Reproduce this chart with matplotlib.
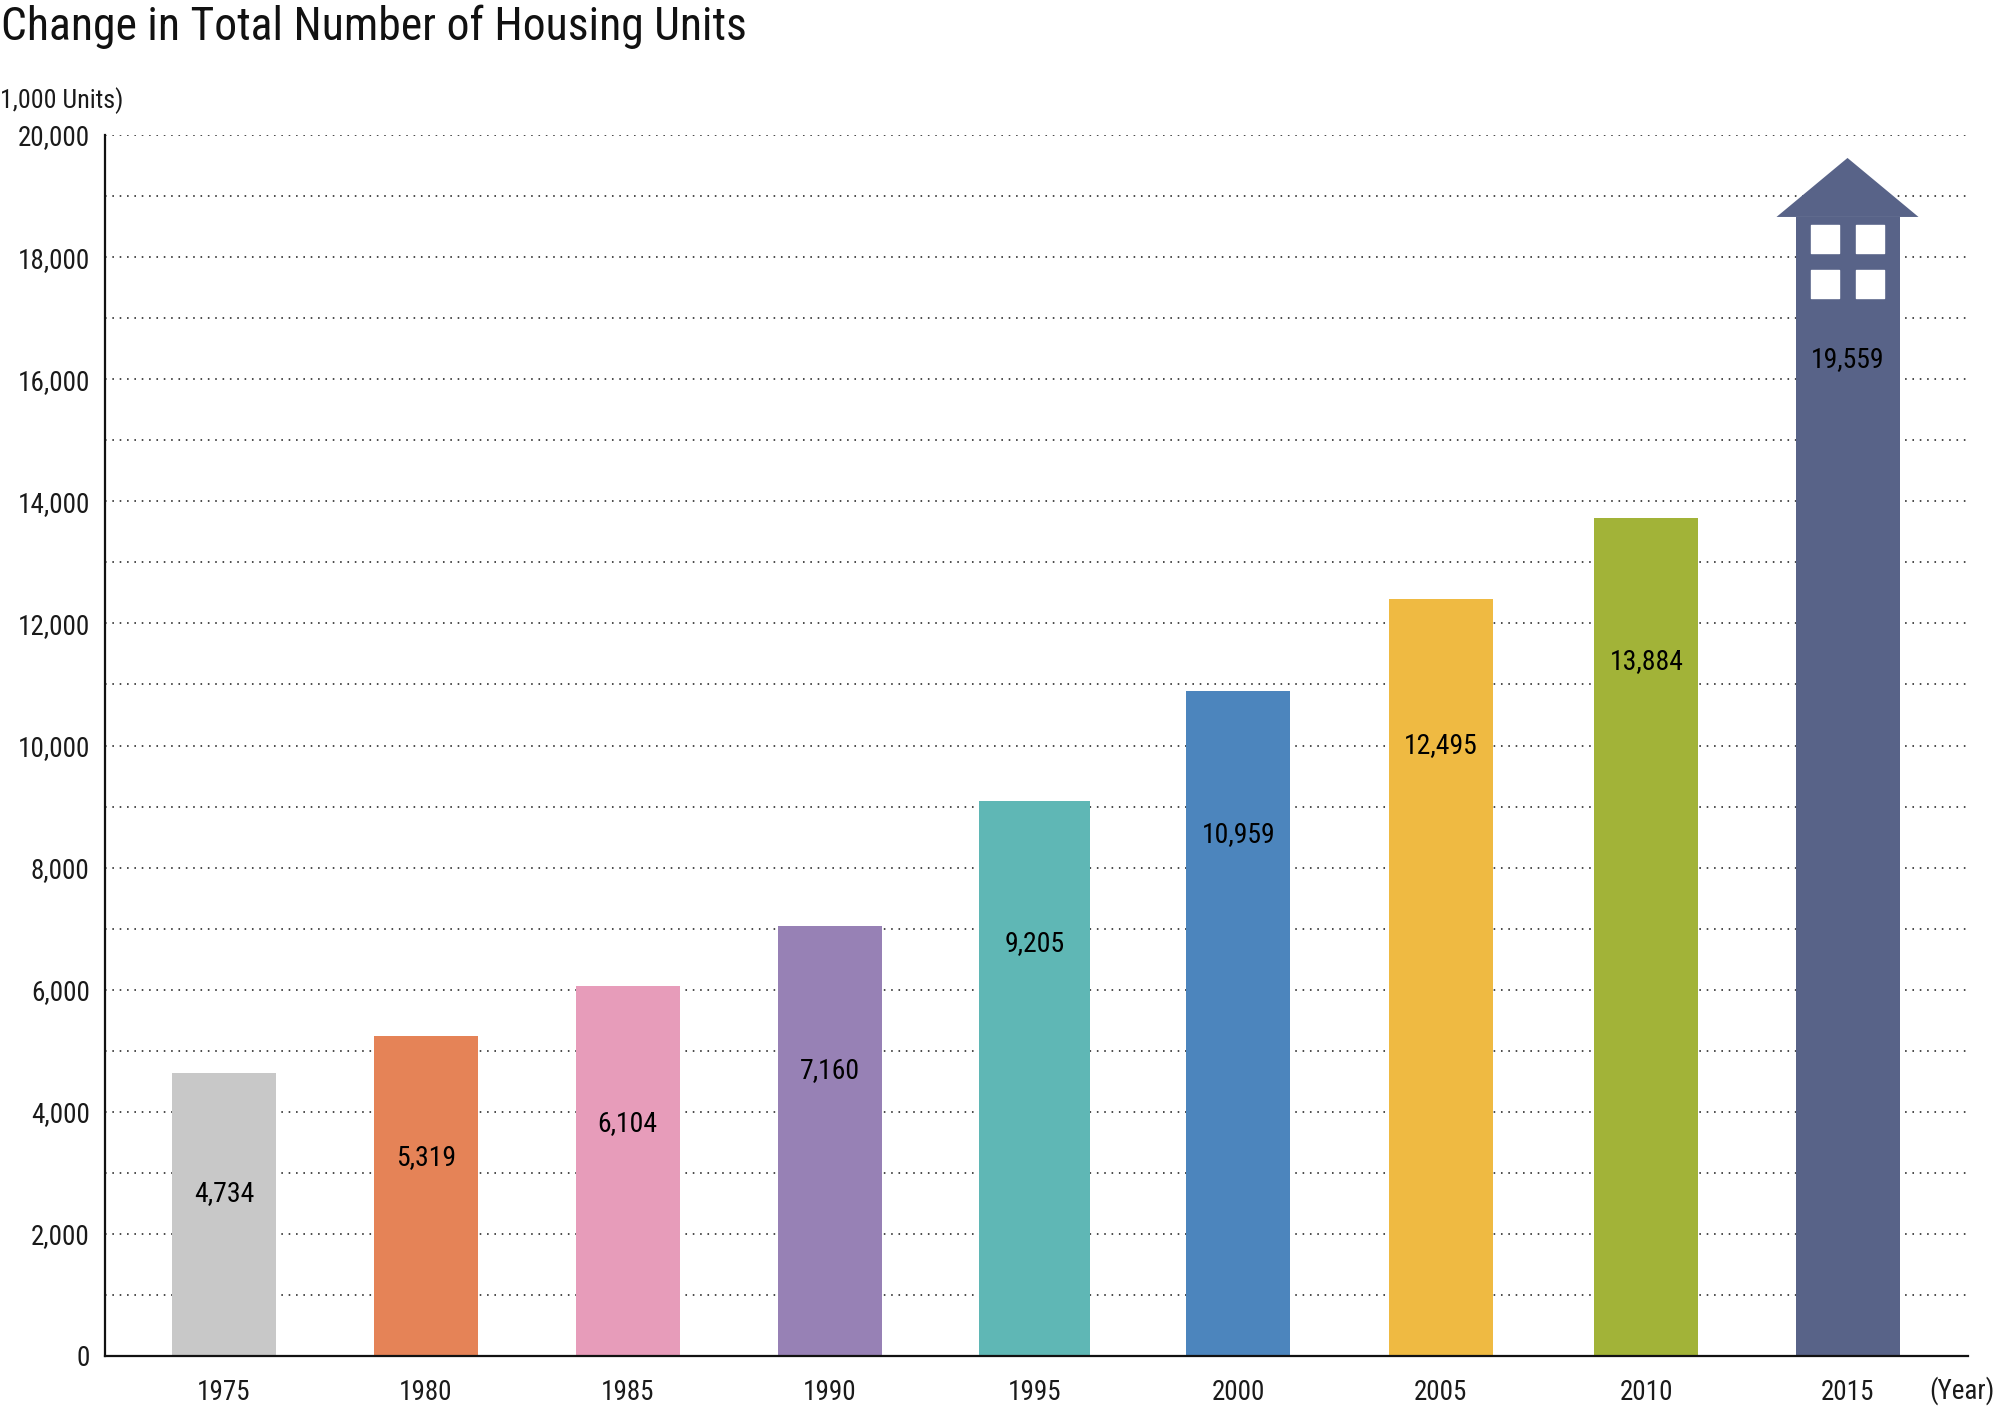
import matplotlib
matplotlib.use("Agg")
import matplotlib.pyplot as plt
from matplotlib.patches import Polygon, Rectangle
from matplotlib import font_manager as fm

years = ["1975", "1980", "1985", "1990", "1995", "2000", "2005", "2010", "2015"]
bar_heights = [4640, 5245, 6060, 7043, 9091, 10888, 12393, 13730, 19624]
value_labels = ["4,734", "5,319", "6,104", "7,160", "9,205", "10,959", "12,495", "13,884", "19,559"]
colors = ["#C8C8C8", "#E58357", "#E79CBA", "#9781B5", "#5FB7B5", "#4C85BD", "#EFBA42", "#A2B338", "#586388"]
y_ticks = list(range(0, 20001, 2000))
y_minor = list(range(1000, 20000, 2000))

# layout, in reference pixels
W, H = 2002, 1408
S = 2002/1568
centers = [175.5*S, 333.5*S, 491.5*S, 650*S, 810*S, 970*S, 1128.5*S, 1289.5*S, 1447*S]
widths = [104, 104, 104, 104, 111, 104, 104, 104, 104]
label_drop = [121, 122, 137, 145, 143, 143, 146, 144, 0]
AX_L, AX_R, AX_T, AX_B = 105, 1968, 135, 1356

names = {f.name for f in fm.fontManager.ttflist}
FONT = ["Liberation Sans Narrow", "Roboto Condensed", "DejaVu Sans"]
plt.rcParams["font.family"] = [f for f in FONT if f in names] or ["DejaVu Sans"]

fig = plt.figure(figsize=(W/100, H/100), dpi=100)
ax = fig.add_axes([AX_L/W, 1-AX_B/H, (AX_R-AX_L)/W, (AX_B-AX_T)/H])
ax.set_xlim(AX_L, AX_R)
ax.set_ylim(0, 20000)
px = 20000/(AX_B-AX_T)  # data units per pixel

for s in ("top", "right"):
    ax.spines[s].set_visible(False)
for s in ("left", "bottom"):
    ax.spines[s].set_linewidth(1.6)
    ax.spines[s].set_color("#111111")

dots = (0, (1, 3.6))
for v in sorted(y_ticks + y_minor):
    if v:
        ax.axhline(v, color="#222222", lw=1.15, ls=dots, zorder=1)

for i, (x, h, w, c, lab) in enumerate(zip(centers, bar_heights, widths, colors, value_labels)):
    if i == len(years)-1:
        body_top = h - 59*px
        ax.add_patch(Rectangle((x-w/2, 0), w, body_top, color=c, lw=0, zorder=2))
        ax.add_patch(Polygon([(x-71, body_top), (x, h), (x+71, body_top)], closed=True, color=c, lw=0, zorder=2))
        for dx in (-23, 22.5):
            for dy in (22.5, 67):
                ax.add_patch(Rectangle((x+dx-14, body_top-(dy+14)*px), 28, 28*px, fc="white", ec="white",
                                       lw=1, joinstyle="round", zorder=3))
        ytxt = body_top - 143*px
    else:
        ax.bar(x, h, width=w, color=c, zorder=2)
        ytxt = h - label_drop[i]*px
    ax.text(x, ytxt, lab, ha="center", va="center", fontsize=20, color="#000000", zorder=4)

ax.set_xticks(centers, years)
ax.set_yticks(y_ticks, [f"{v:,}" for v in y_ticks])
ax.tick_params(axis="both", length=0, labelsize=19.5, labelcolor="#1a1a1a")
ax.tick_params(axis="x", pad=16.5)
ax.tick_params(axis="y", pad=11)

fig.text(1/W, 1-27/H, "Change in Total Number of Housing Units", fontsize=32.9, color="#111111", ha="left", va="center")
fig.text(0/W, 1-101/H, "1,000 Units)", fontsize=18.7, color="#1a1a1a", ha="left", va="center")
fig.text(1995/W, 1-1391/H, "(Year)", fontsize=19.5, color="#1a1a1a", ha="right", va="center")

fig.savefig("out.png", dpi=100)
